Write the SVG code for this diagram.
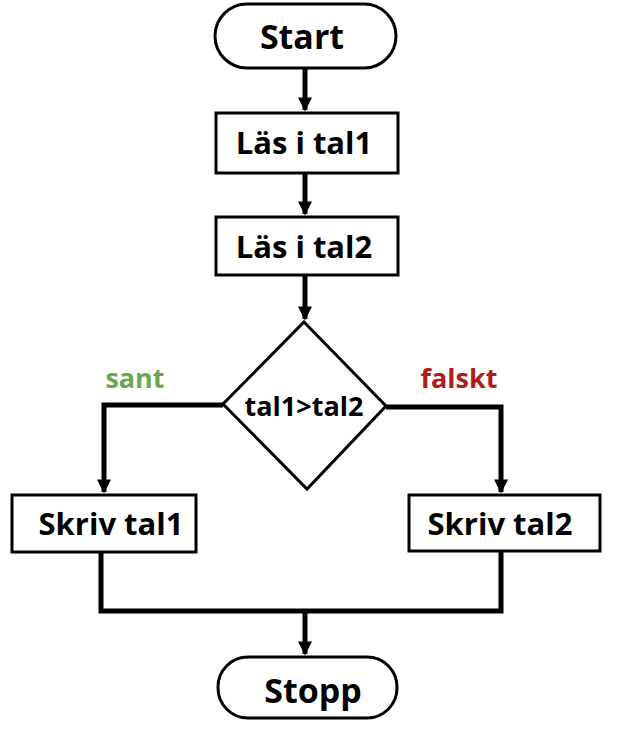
<svg xmlns="http://www.w3.org/2000/svg" width="623" height="738" viewBox="0 0 623 738">
<style>
.n{fill:#fff;stroke:#000;stroke-width:3}
.t{font-family:"Open Sans","Liberation Sans",sans-serif;font-weight:bold;font-size:31px;text-anchor:middle;fill:#000}
.c{fill:none;stroke:#000;stroke-width:5}
</style>
<defs><marker id="a" viewBox="0 0 10 10" refX="9" refY="5" markerWidth="3" markerHeight="2.8" orient="auto" markerUnits="strokeWidth"><path d="M0,0L10,5L0,10z" fill="#000"/></marker></defs>
<rect width="623" height="738" fill="#fff"/>
<g id="connectors">
<path class="c" d="M305,68V110" marker-end="url(#a)"/>
<path class="c" d="M305,173V214" marker-end="url(#a)"/>
<path class="c" d="M305,276V319" marker-end="url(#a)"/>
<path class="c" d="M223,405H104V492" marker-end="url(#a)"/>
<path class="c" d="M386,407H501V492" marker-end="url(#a)"/>
<path class="c" d="M101,552V611H501V551M305,611V654" marker-end="url(#a)"/>
</g>
<g id="start"><rect class="n" x="215" y="4" width="181" height="64" rx="32"/><text class="t" x="302" y="49" style="font-size:34px">Start</text></g>
<g id="las1"><rect class="n" x="216" y="113" width="182" height="60"/><text class="t" x="304" y="154">Läs i tal1</text></g>
<g id="las2"><rect class="n" x="216" y="217" width="182" height="58"/><text class="t" x="304" y="258">Läs i tal2</text></g>
<g id="cond"><path class="n" d="M304,322L386,406L307,489L223,404Z"/><text class="t" x="304" y="416" style="font-size:27px">tal1&gt;tal2</text></g>
<g id="skriv1"><rect class="n" x="12" y="495" width="184" height="57"/><text class="t" x="111" y="535">Skriv tal1</text></g>
<g id="skriv2"><rect class="n" x="409" y="495" width="191" height="56"/><text class="t" x="500" y="535">Skriv tal2</text></g>
<g id="stopp"><rect class="n" x="218" y="657" width="179" height="61" rx="30"/><text class="t" x="313" y="703" style="font-size:34px">Stopp</text></g>
<text class="t" x="135" y="388" style="font-size:27px;fill:#6aa84f">sant</text>
<text class="t" x="459" y="388" style="font-size:27px;fill:#b01c1c">falskt</text>
</svg>
